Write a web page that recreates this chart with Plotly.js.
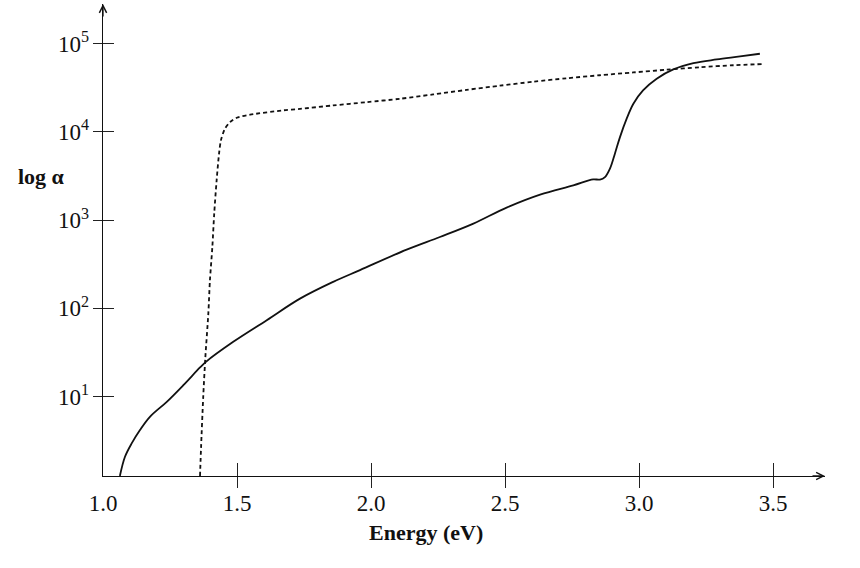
<!DOCTYPE html>
<html>
<head>
<meta charset="utf-8">
<script src="https://cdn.plot.ly/plotly-3.0.1.min.js"></script>
<style>
  html, body { margin: 0; padding: 0; background: #fff; }
  #chart { width: 860px; height: 568px; }
</style>
</head>
<body>
<div id="chart"></div>
<script>
// Absorption coefficient versus photon energy (log scale)

// Solid curve
const energySolid = [1.063, 1.082, 1.107, 1.138, 1.175, 1.238, 1.300, 1.362, 1.384, 1.486,
  1.611, 1.735, 1.859, 1.959, 2.133, 2.257, 2.382, 2.506, 2.631,
  2.755, 2.829, 2.854, 2.873, 2.892, 2.910, 2.929, 2.954, 2.979, 3.015,
  3.066, 3.128, 3.203, 3.290, 3.377, 3.451];
const alphaSolid = [1.26, 2.08, 2.95, 4.18, 5.90, 8.73, 13.5, 21.4, 24.8, 41.8,
  73.5, 129, 200, 272, 464, 645, 915, 1390, 1950,
  2485, 2905, 2885, 3085, 3870, 5680, 8750, 14150, 20900, 29600,
  40150, 51200, 60300, 66400, 71800, 77100];

// Dotted curve
const energyDotted = [1.362, 1.366, 1.374, 1.382, 1.393, 1.399, 1.408, 1.415, 1.424, 1.433,
  1.440, 1.455, 1.474, 1.499, 1.549, 1.673, 1.735, 1.859, 1.984, 2.108,
  2.232, 2.357, 2.481, 2.606, 2.730, 2.854, 2.978, 3.103, 3.228, 3.352,
  3.459];
const alphaDotted = [1.26, 2.70, 9.95, 28.2, 87.5, 208, 498, 1190, 2830, 5680,
  8030, 10900, 12950, 14500, 15700, 17600, 18270, 20000, 21800, 23800,
  26650, 30000, 33500, 37150, 40650, 43980, 47300, 50800, 54200, 57100,
  58900];

// Axis ticks and labels
const xLabelVals = [1.0, 1.5, 2.0, 2.5, 3.0, 3.5];
const xLabelText = ['1.0', '1.5', '2.0', '2.5', '3.0', '3.5'];
const xTickVals = [1.5, 2.0, 2.5, 3.0, 3.5];
const yTickVals = [10, 100, 1000, 10000, 100000];
const yTickText = ['10<sup>1</sup>', '10<sup>2</sup>', '10<sup>3</sup>', '10<sup>4</sup>', '10<sup>5</sup>'];

const xRange = [1.0, 3.694];
const yLogRange = [0.1, 5.451];

const serif = 'Liberation Serif, Times New Roman, serif';
const ink = '#111';

const traces = [
  {
    x: energySolid, y: alphaSolid, type: 'scatter', mode: 'lines',
    line: { color: ink, width: 1.8, shape: 'spline', smoothing: 1.0 },
    hoverinfo: 'skip'
  },
  {
    x: energyDotted, y: alphaDotted, type: 'scatter', mode: 'lines',
    line: { color: ink, width: 1.8, dash: '4px,3px', shape: 'spline', smoothing: 0.8 },
    hoverinfo: 'skip'
  },
  // empty traces that hold the tick-mark overlay axes
  { x: [], y: [], xaxis: 'x2', yaxis: 'y2', type: 'scatter', mode: 'lines', hoverinfo: 'skip' },
  { x: [], y: [], xaxis: 'x3', yaxis: 'y3', type: 'scatter', mode: 'lines', hoverinfo: 'skip' }
];

const tickOverlayX = (dir, len) => ({
  range: xRange, overlaying: 'x', anchor: 'y', side: 'bottom',
  tickmode: 'array', tickvals: xTickVals, ticks: dir, ticklen: len,
  tickwidth: 1, tickcolor: '#222', showticklabels: false,
  showgrid: false, zeroline: false, showline: false, fixedrange: true
});
const tickOverlayY = (dir, len) => ({
  type: 'log', range: yLogRange, overlaying: 'y', anchor: 'x', side: 'left',
  tickmode: 'array', tickvals: yTickVals, ticks: dir, ticklen: len,
  tickwidth: 1, tickcolor: '#222', showticklabels: false,
  showgrid: false, zeroline: false, showline: false, fixedrange: true
});

const layout = {
  width: 860, height: 568,
  margin: { l: 103, r: 35, t: 4, b: 92 },
  paper_bgcolor: '#fff', plot_bgcolor: '#fff',
  showlegend: false, hovermode: false, dragmode: false,
  font: { family: serif, color: ink, size: 23 },
  xaxis: {
    range: xRange, tickmode: 'array', tickvals: xLabelVals, ticktext: xLabelText,
    ticks: '', showgrid: false, zeroline: false,
    showline: true, linecolor: ink, linewidth: 1.3,
    ticklabelstandoff: 6, tickfont: { family: serif, size: 23, color: ink },
    fixedrange: true
  },
  yaxis: {
    type: 'log', range: yLogRange, tickmode: 'array', tickvals: yTickVals, ticktext: yTickText,
    ticks: '', showgrid: false, zeroline: false,
    showline: true, linecolor: ink, linewidth: 1.3,
    ticklabelstandoff: 8, tickfont: { family: serif, size: 23, color: ink },
    fixedrange: true
  },
  xaxis2: tickOverlayX('outside', 11),
  yaxis2: tickOverlayY('outside', 9),
  xaxis3: tickOverlayX('inside', 13),
  yaxis3: tickOverlayY('inside', 11),
  annotations: [
    // arrowheads at the ends of both axes
    { xref: 'paper', yref: 'paper', x: 1, y: 0, ax: -14, ay: 0, text: '',
      showarrow: true, arrowhead: 5, arrowsize: 1.1, arrowwidth: 1.3, arrowcolor: ink },
    { xref: 'paper', yref: 'paper', x: 0, y: 1, ax: 0, ay: 14, text: '',
      showarrow: true, arrowhead: 5, arrowsize: 1.1, arrowwidth: 1.3, arrowcolor: ink },
    // axis titles
    { xref: 'paper', yref: 'paper', x: 0.447, y: -0.12, xanchor: 'center', yanchor: 'middle',
      text: '<b>Energy (eV)</b>', showarrow: false, font: { family: serif, size: 22, color: ink } },
    { xref: 'paper', yref: 'paper', x: -0.085, y: 0.635, xanchor: 'center', yanchor: 'middle',
      text: '<b>log α</b>', showarrow: false, font: { family: serif, size: 22, color: ink } }
  ]
};

Plotly.newPlot('chart', traces, layout, { displayModeBar: false, staticPlot: true });
</script>
</body>
</html>
